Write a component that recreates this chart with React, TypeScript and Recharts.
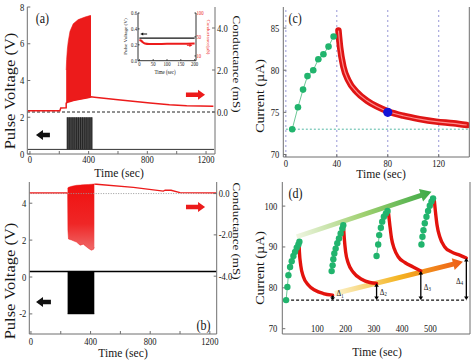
import React from "react";
import { ComposedChart, Line, Area, XAxis, YAxis, ReferenceLine, ReferenceDot } from "recharts";

const SERIF = '"Liberation Serif", "Times New Roman", "DejaVu Serif", serif';
const INK = "#161616";
const FRAME = "#6f6f6f";
const RED = "#ec1b1b";
const GREEN = "#21b46d";
const GREEN_LINE = "#6cc896";

// ---- (a) conductance (mS) and pulse voltage (V) against time (sec)
const aXTicks = [0, 200, 400, 600, 800, 1000, 1200];
const aVoltTicks = [0, 2, 4, 6, 8];
const aCondTicks = [0, 2, 4];
const aBaseT = [-15, 204, 210, 247];
const aBaseG = [0.06, 0.06, 0.19, 0.2];
const aPulseT = [247, 250, 255, 261, 273, 295, 329, 375, 409, 416];
const aPulseLo = [0.42, 0.44, 0.46, 0.48, 0.5, 0.55, 0.6, 0.66, 0.7, 0.72];
const aPulseHi = [2.0, 2.5, 3.0, 3.36, 3.84, 4.2, 4.4, 4.52, 4.59, 4.6];
const aPostT = [416, 440, 600, 818, 950, 1068, 1250];
const aPostG = [0.72, 0.7, 0.58, 0.43, 0.35, 0.3, 0.27];
const aVoltT = [-15, 1255];
const aVoltV = [0.25, 0.25];
const aBlockT = [250, 427];
const aBlockLo = [0.25, 0.25];
const aBlockHi = [2, 2];
const aStripeT = [258, 272, 287, 301, 316, 330, 345, 359, 374, 388, 403, 417];

// ---- inset of (a)
const insXTicks = [0, 50, 100, 150, 200];
const insVoltTicks = [0, 0.2, 0.4, 0.6];
const insCondTicks = [10, 50, 100];
const insVoltT = [0, 200];
const insVoltV = [0.285, 0.285];
const insCondT = [0, 4, 10, 20, 35, 60, 100, 150, 200];
const insCondG = [42, 43, 40, 36, 35, 35, 35.5, 35.5, 36];

// ---- (b)
const bXTicks = [0, 200, 400, 600, 800, 1000, 1200];
const bVoltTicks = [-2, 0, 2, 4];
const bCondTicks = [-4, -2, 0];
const bBaseT = [-10, 246];
const bBaseG = [0.03, 0.03];
const bPulseT = [246, 248, 252, 273, 306, 330, 351, 385, 405, 420, 425];
const bPulseLo = [0.03, -1.77, -2.2, -2.25, -2.35, -2.5, -2.45, -2.65, -2.74, -2.7, -2.6];
const bPulseHi = [0.25, 0.28, 0.3, 0.35, 0.4, 0.41, 0.43, 0.44, 0.45, 0.46, 0.46];
const bPostT = [425, 440, 687, 888, 900, 940, 1000, 1245];
const bPostG = [0.46, 0.45, 0.3, 0.12, 0.16, 0.16, 0.05, 0.03];
const bVoltT = [-10, 1245];
const bVoltV = [0.3, 0.3];
const bBlockT = [246, 425];
const bBlockLo = [-2, -2];
const bBlockHi = [0.3, 0.3];

// ---- (c) current (uA) for one pulse
const cXTicks = [0, 40, 80, 120];
const cITicks = [70, 75, 80, 85];
const cRiseT = [5, 9.5, 13.5, 17, 21.5, 25.5, 29.5, 33.5, 37.5];
const cRiseI = [73.0, 75.6, 77.7, 79.3, 80.0, 81.3, 81.9, 82.8, 84.0];
const cDecayT = [41.3, 42.6, 45.2, 49, 55.7, 63.5, 71.4, 80.5, 92, 105, 118, 131.5, 142];
const cDecayI = [84.7, 82.7, 80.4, 78.8, 77.4, 76.4, 75.7, 75.1, 74.6, 74.2, 73.9, 73.7, 73.5];
const cMarkT = [80];
const cMarkI = [75];
const cBaseI = 73;

// ---- (d) four repeated cycles
const dXTicks = [100, 200, 300, 400, 500];
const dITicks = [70, 80, 90, 100];
const dRiseT = [
  [-10.6, -6, -2.4, 3.5, 9.4, 15.3, 21.2, 27, 33, 36.5],
  [150.6, 154, 156.5, 160, 164.8, 170.6, 176.5, 182.4, 188.3, 191.8],
  [309.5, 315.3, 318.8, 324.7, 329.4, 335.3, 342.4, 348.4],
  [468.3, 471.8, 475.3, 480, 486, 491.7, 497.7, 503.7, 509.3],
];
const dRiseI = [
  [77.0, 80.2, 83.1, 85.1, 86.5, 87.8, 88.8, 89.8, 90.6, 91.3],
  [84.1, 85.5, 87.0, 88.4, 89.6, 90.9, 92.1, 93.3, 94.5, 95.3],
  [87.8, 90.6, 92.9, 94.7, 96.2, 97.4, 98.2, 98.8],
  [90.6, 92.5, 94.1, 95.8, 97.4, 98.8, 100.1, 101.1, 101.9],
];
const dDecayT = [
  [35, 36.5, 41.2, 50.6, 68, 91.8, 121, 154],
  [192, 195.3, 200, 209.5, 227, 256.5, 286, 309.5],
  [350.6, 356.5, 362.4, 371.8, 385.9, 409.5, 438.8, 466],
  [512.9, 517.8, 523.5, 533, 550.7, 574.2, 603.5, 627],
];
const dDecayI = [
  [91.0, 88.8, 85.5, 82.7, 80.7, 79.4, 78.6, 78.2],
  [95.5, 92.1, 88.8, 86.0, 83.8, 82.1, 81.3, 81.1],
  [99.0, 95.3, 92.1, 89.6, 87.6, 86.2, 85.1, 84.1],
  [102.0, 98.6, 95.3, 92.5, 90.0, 88.8, 88.0, 87.3],
];
const dBaseI = 77;
const dDeltaT = [154, 309.5, 466, 627];
const dDeltaTop = [78.2, 81.1, 84.1, 87.3];

const pts = (t: number[], y: number[]) => t.map((x, i) => ({ t: x, y: y[i] }));
const band = (t: number[], lo: number[], hi: number[]) => t.map((x, i) => ({ t: x, r: [lo[i], hi[i]] }));

const frame = { type: "number" as const, stroke: FRAME, allowDataOverflow: true, interval: 0 as const };
const frameInk = { type: "number" as const, stroke: "#333", allowDataOverflow: true, interval: 0 as const };

type TickOpts = { size?: number; fmt?: (v: number) => string; dy?: string | number; fill?: string };
const tickText = (o: TickOpts = {}) => (p: any) => {
  const v = Number(p.payload?.value);
  const s = o.fmt ? o.fmt(v) : String(v);
  if (!s) return <g />;
  return (
    <text
      transform={`translate(${p.x},${p.y}) scale(0.86,1)`}
      textAnchor={p.textAnchor}
      dy={o.dy ?? "0.35em"}
      fontSize={o.size ?? 10}
      fill={o.fill ?? INK}
      style={{ fontFamily: SERIF }}
    >
      {s}
    </text>
  );
};

// axis titles sit at fixed spots of their own chart
const axisTitle = (text: string, x: number, y: number, size: number, angle = 0, fill = INK) => () => (
  <text
    transform={`translate(${x},${y}) rotate(${angle}) scale(${angle ? "1,0.86" : "0.86,1"})`}
    textAnchor="middle"
    dominantBaseline="central"
    fontSize={size}
    fill={fill}
    style={{ fontFamily: SERIF }}
  >
    {text}
  </text>
);

const noteShape = (content: React.ReactNode, size = 14, fill = INK) => (p: any) => (
  <text
    transform={`translate(${p.cx},${p.cy}) scale(0.86,1)`}
    textAnchor="middle"
    dominantBaseline="central"
    fontSize={size}
    fill={fill}
    style={{ fontFamily: SERIF }}
  >
    {content}
  </text>
);

type ArrowStyle = { id: string; stops: string[]; shaft: number; headL: number; headW: number; both?: boolean };
const arrowShape = (s: ArrowStyle) => (p: any) => {
  const { x1, y1, x2, y2 } = p;
  if (![x1, y1, x2, y2].every((v) => Number.isFinite(v))) return <g />;
  const len = Math.hypot(x2 - x1, y2 - y1) || 1;
  const ux = (x2 - x1) / len;
  const uy = (y2 - y1) / len;
  const hl = Math.min(s.headL, len / (s.both ? 2.2 : 1.2));
  const at = (x: number, y: number, along: number, across: number) =>
    `${(x + ux * along - uy * across).toFixed(2)},${(y + uy * along + ux * across).toFixed(2)}`;
  const a = s.shaft / 2;
  const h = s.headW / 2;
  const poly = s.both
    ? [at(x1, y1, 0, 0), at(x1, y1, hl, h), at(x1, y1, hl, a), at(x2, y2, -hl, a), at(x2, y2, -hl, h), at(x2, y2, 0, 0),
       at(x2, y2, -hl, -h), at(x2, y2, -hl, -a), at(x1, y1, hl, -a), at(x1, y1, hl, -h)]
    : [at(x1, y1, 0, a), at(x2, y2, -hl, a), at(x2, y2, -hl, h), at(x2, y2, 0, 0), at(x2, y2, -hl, -h),
       at(x2, y2, -hl, -a), at(x1, y1, 0, -a)];
  const grad = s.stops.length > 1;
  return (
    <g>
      {grad && (
        <defs>
          <linearGradient id={s.id} gradientUnits="userSpaceOnUse" x1={x1} y1={y1} x2={x2} y2={y2}>
            {s.stops.map((c, i) => (
              <stop key={i} offset={i / (s.stops.length - 1)} stopColor={c} />
            ))}
          </linearGradient>
        </defs>
      )}
      <polygon points={poly.join(" ")} fill={grad ? `url(#${s.id})` : s.stops[0]} />
    </g>
  );
};

const redSide = { stops: [RED], shaft: 4.5, headL: 7, headW: 10 };
const blackSide = { stops: ["#111"], shaft: 4.5, headL: 7, headW: 10 };

function PanelA() {
  return (
    <ComposedChart width={245} height={182} margin={{ top: 7, right: 0, bottom: 0, left: 0 }}>
      <XAxis dataKey="t" {...frame} domain={[-18, 1261]} ticks={aXTicks} height={28} tickSize={-3} tickMargin={5}
        tick={tickText({ dy: "0.71em", fmt: (v) => (v % 400 === 0 ? String(v) : "") })}
        label={axisTitle("Time (sec)", 119, 173, 13.5)} />
      <XAxis xAxisId="top" orientation="top" {...frame} domain={[-18, 1261]} height={0} tick={false} tickLine={false} />
      <YAxis yAxisId="v" {...frame} domain={[0, 8]} ticks={aVoltTicks} width={27.3} tickSize={-3} tickMargin={6}
        tick={tickText()} label={axisTitle("Pulse Voltage (V)", 10, 91, 16.5, -90)} />
      <YAxis yAxisId="g" orientation="right" {...frame} domain={[-2, 5]} ticks={aCondTicks} width={30} tickSize={-3}
        tickMargin={5} tick={tickText({ fmt: (v) => v.toFixed(1) })}
        label={axisTitle("Conductance (mS)", 237, 64, 13, 90)} />
      <ReferenceLine yAxisId="g" y={0} stroke="#222" strokeDasharray="3 2" />
      <Area yAxisId="v" data={band(aBlockT, aBlockLo, aBlockHi)} dataKey="r" type="linear" fill="#4e4e4e"
        fillOpacity={1} stroke="none" isAnimationActive={false} />
      {aStripeT.map((t) => (
        <ReferenceLine key={t} yAxisId="v" segment={[{ x: t, y: 0.25 }, { x: t, y: 2 }]} stroke="#161616" strokeWidth={0.8} />
      ))}
      <Line yAxisId="v" data={pts(aVoltT, aVoltV)} dataKey="y" stroke="#333" strokeWidth={1} dot={false}
        activeDot={false} isAnimationActive={false} />
      <Area yAxisId="g" data={band(aPulseT, aPulseLo, aPulseHi)} dataKey="r" type="linear" fill={RED}
        fillOpacity={1} stroke={RED} strokeWidth={0.6} isAnimationActive={false} />
      <Line yAxisId="g" data={pts([...aBaseT, ...aPulseT, ...aPostT], [...aBaseG, ...aPulseLo, ...aPostG])}
        dataKey="y" stroke={RED} strokeWidth={1.5} dot={false} activeDot={false} isAnimationActive={false} />
      <ReferenceLine yAxisId="g" segment={[{ x: 1063, y: 0.82 }, { x: 1193, y: 0.82 }]} ifOverflow="visible"
        shape={arrowShape({ id: "aRed", ...redSide })} />
      <ReferenceLine yAxisId="v" segment={[{ x: 136, y: 1.03 }, { x: 41, y: 1.03 }]} ifOverflow="visible"
        shape={arrowShape({ id: "aBlack", ...blackSide })} />
      <ReferenceDot yAxisId="v" x={85} y={7.4} r={0} ifOverflow="visible" shape={noteShape("(a)")} />
    </ComposedChart>
  );
}

function Inset() {
  return (
    <ComposedChart width={94} height={70} margin={{ top: 5, right: 0, bottom: 0, left: 0 }}>
      <XAxis dataKey="t" {...frameInk} domain={[-5, 205]} ticks={insXTicks} height={17.3} tickSize={-1.5}
        tickMargin={2.5} tick={tickText({ size: 5.5, dy: "0.71em" })}
        label={axisTitle("Time (sec)", 47, 63.5, 5.8)} />
      <XAxis xAxisId="top" orientation="top" {...frameInk} domain={[-5, 205]} height={0} tick={false} tickLine={false} />
      <YAxis yAxisId="v" {...frameInk} domain={[0, 0.6]} ticks={insVoltTicks} width={20} tickSize={-1.5}
        tickMargin={2.5} tick={tickText({ size: 5.5, fmt: (v) => v.toFixed(1) })}
        label={axisTitle("Pulse Voltage (V)", 8, 28.5, 5.2, -90)} />
      <YAxis yAxisId="g" orientation="right" {...frameInk} domain={[0, 100]} ticks={insCondTicks} width={16}
        tickSize={-1.5} tickMargin={2} tick={tickText({ size: 5.5, fill: RED })}
        label={axisTitle("Conductance(\u00b5S)", 90.5, 29, 5, 90, RED)} />
      <Line yAxisId="v" data={pts(insVoltT, insVoltV)} dataKey="y" stroke="#111" strokeWidth={1.3} dot={false}
        activeDot={false} isAnimationActive={false} />
      <Line yAxisId="g" data={pts(insCondT, insCondG)} dataKey="y" type="monotone" stroke={RED} strokeWidth={2}
        dot={false} activeDot={false} isAnimationActive={false} />
      <ReferenceLine yAxisId="v" segment={[{ x: 28, y: 0.336 }, { x: 3, y: 0.336 }]} ifOverflow="visible"
        shape={arrowShape({ id: "iBlack", stops: ["#111"], shaft: 0.9, headL: 3, headW: 3.2 })} />
      <ReferenceLine yAxisId="g" segment={[{ x: 172, y: 32.3 }, { x: 192, y: 32.3 }]} ifOverflow="visible"
        shape={arrowShape({ id: "iRed", stops: [RED], shaft: 0.9, headL: 3, headW: 3.2 })} />
    </ComposedChart>
  );
}

function PanelB() {
  return (
    <ComposedChart width={245} height={183} margin={{ top: 2, right: 0, bottom: 0, left: 0 }}>
      <defs>
        <linearGradient id="bPulseFill" x1="0" y1="0" x2="0" y2="1">
          <stop offset="0" stopColor="#f01010" />
          <stop offset="0.6" stopColor="#ef2626" />
          <stop offset="1" stopColor="#ef6a6a" />
        </linearGradient>
      </defs>
      <XAxis dataKey="t" {...frame} domain={[-11, 1246]} ticks={bXTicks} height={29} tickSize={-3} tickMargin={6.5}
        tick={tickText({ dy: "0.71em", fmt: (v) => (v % 400 === 0 ? String(v) : "") })}
        label={axisTitle("Time (sec)", 123, 173, 13.5)} />
      <XAxis xAxisId="top" orientation="top" {...frame} domain={[-11, 1246]} height={0} tick={false} tickLine={false} />
      <YAxis yAxisId="v" {...frame} domain={[-3.09, 5.15]} ticks={bVoltTicks} width={29.3} tickSize={-3}
        tickMargin={6} tick={tickText()} label={axisTitle("Pulse Voltage (V)", 10, 101, 16.5, -90)} />
      <YAxis yAxisId="g" orientation="right" {...frame} domain={[-6.8, 0.56]} ticks={bCondTicks} width={28.3}
        tickSize={-3} tickMargin={5} tick={tickText({ fmt: (v) => v.toFixed(1) })}
        label={axisTitle("Conductance (mS)", 237, 51, 13, 90)} />
      <ReferenceLine yAxisId="g" y={0} stroke="#9a9a9a" strokeDasharray="1 1.5" />
      <Area yAxisId="v" data={band(bBlockT, bBlockLo, bBlockHi)} dataKey="r" type="linear" fill="#000"
        fillOpacity={1} stroke="#000" strokeWidth={0.6} isAnimationActive={false} />
      <Line yAxisId="v" data={pts(bVoltT, bVoltV)} dataKey="y" stroke="#000" strokeWidth={1.6} dot={false}
        activeDot={false} isAnimationActive={false} />
      <Area yAxisId="g" data={band(bPulseT, bPulseLo, bPulseHi)} dataKey="r" type="linear" fill="url(#bPulseFill)"
        fillOpacity={1} stroke={RED} strokeWidth={0.5} isAnimationActive={false} />
      <Line yAxisId="g" data={pts(bBaseT, bBaseG)} dataKey="y" stroke={RED} strokeWidth={1.3} dot={false}
        activeDot={false} isAnimationActive={false} />
      <Line yAxisId="g" data={pts(bPostT, bPostG)} dataKey="y" stroke={RED} strokeWidth={1.3} dot={false}
        activeDot={false} isAnimationActive={false} />
      <ReferenceLine yAxisId="g" segment={[{ x: 1040, y: -0.65 }, { x: 1168, y: -0.65 }]} ifOverflow="visible"
        shape={arrowShape({ id: "bRed", ...redSide })} />
      <ReferenceLine yAxisId="v" segment={[{ x: 134, y: -1.36 }, { x: 34, y: -1.36 }]} ifOverflow="visible"
        shape={arrowShape({ id: "bBlack", ...blackSide })} />
      <ReferenceDot yAxisId="v" x={1158} y={-2.6} r={0} ifOverflow="visible" shape={noteShape("(b)")} />
    </ComposedChart>
  );
}

function PanelC() {
  return (
    <ComposedChart width={229} height={183} margin={{ top: 7, right: 0, bottom: 0, left: 0 }}>
      <XAxis dataKey="t" {...frame} domain={[-2, 144]} ticks={cXTicks} height={26} tickSize={-3} tickMargin={5.5}
        tick={tickText({ dy: "0.71em" })} label={axisTitle("Time (sec)", 136, 173.5, 13.5)} />
      <XAxis xAxisId="top" orientation="top" {...frame} domain={[-2, 144]} height={0} tick={false} tickLine={false} />
      <YAxis yAxisId="i" {...frame} domain={[69.7, 87.5]} ticks={cITicks} width={38.3} tickSize={-3} tickMargin={7}
        tick={tickText()} label={axisTitle("Current (\u00b5A)", 15, 96, 14, -90)} />
      <YAxis yAxisId="edge" orientation="right" {...frame} domain={[69.7, 87.5]} width={4.7} tick={false}
        tickLine={false} />
      {cXTicks.map((x) => (
        <ReferenceLine key={x} yAxisId="i" x={x} stroke="#9898d6" strokeDasharray="2 3" />
      ))}
      <ReferenceLine yAxisId="i" segment={[{ x: 0, y: cBaseI }, { x: 144, y: cBaseI }]} stroke="#55b8a6"
        strokeDasharray="2 2" />
      <Line yAxisId="i" data={pts(cRiseT, cRiseI)} dataKey="y" stroke={GREEN_LINE} strokeWidth={1}
        dot={{ r: 3.3, fill: GREEN, stroke: "none" }} activeDot={false} isAnimationActive={false} />
      <Line yAxisId="i" data={pts(cDecayT, cDecayI)} dataKey="y" type="monotone" stroke="#df1515" strokeWidth={6.5}
        strokeLinecap="round" dot={false} activeDot={false} isAnimationActive={false} />
      <Line yAxisId="i" data={pts(cDecayT, cDecayI)} dataKey="y" type="monotone" stroke="#ff8d8d" strokeWidth={1.2}
        dot={false} activeDot={false} isAnimationActive={false} />
      <Line yAxisId="i" data={pts(cMarkT, cMarkI)} dataKey="y" stroke="none"
        dot={{ r: 4.6, fill: "#1414d6", stroke: "none" }} activeDot={false} isAnimationActive={false} />
      <ReferenceDot yAxisId="i" x={7.3} y={86.15} r={0} ifOverflow="visible" shape={noteShape("(c)")} />
    </ComposedChart>
  );
}

function PanelD() {
  const deltas = ["1", "2", "3", "4"];
  const deltaNoteT = [180, 333, 489, 603];
  const deltaNoteI = [78.6, 78.9, 80.2, 81.6];
  return (
    <ComposedChart width={229} height={183} margin={{ top: 2, right: 0, bottom: 0, left: 0 }}>
      <XAxis dataKey="t" {...frame} domain={[-24, 640]} ticks={dXTicks} height={29} tickSize={0} tickMargin={0}
        tickLine={false} tick={tickText({ dy: -2 })} label={axisTitle("Time (sec)", 132, 172, 13.5)} />
      <XAxis xAxisId="top" orientation="top" {...frame} domain={[-24, 640]} height={0} tick={false} tickLine={false} />
      <YAxis yAxisId="i" {...frame} domain={[68.7, 105.9]} ticks={dITicks} width={37.3} tickSize={-3} tickMargin={8}
        tick={tickText()} label={axisTitle("Current (\u00b5A)", 15, 88, 14, -90)} />
      <YAxis yAxisId="edge" orientation="right" {...frame} domain={[68.7, 105.9]} width={4} tick={false}
        tickLine={false} />
      <ReferenceLine yAxisId="i" segment={[{ x: -10.6, y: dBaseI }, { x: 627, y: dBaseI }]} stroke="#111"
        strokeWidth={1.2} strokeDasharray="3 2" />
      <ReferenceLine yAxisId="i" segment={[{ x: 27, y: 92.5 }, { x: 503.7, y: 103.5 }]} ifOverflow="visible"
        shape={arrowShape({ id: "dGreen", stops: ["#eef5e0", "#9fd070", "#3da946"], shaft: 5, headL: 11, headW: 13 })} />
      <ReferenceLine yAxisId="i" segment={[{ x: 162, y: 78.6 }, { x: 615, y: 86.4 }]} ifOverflow="visible"
        shape={arrowShape({ id: "dOrange", stops: ["#fbf3cc", "#f4b422", "#ee5b16"], shaft: 5, headL: 10, headW: 12 })} />
      {dRiseT.map((t, k) => (
        <Line key={`r${k}`} yAxisId="i" data={pts(t, dRiseI[k])} dataKey="y" stroke={GREEN_LINE} strokeWidth={1}
          dot={{ r: 3.2, fill: GREEN, stroke: "none" }} activeDot={false} isAnimationActive={false} />
      ))}
      {dDecayT.map((t, k) => (
        <Line key={`d${k}`} yAxisId="i" data={pts(t, dDecayI[k])} dataKey="y" type="monotone" stroke="#e3130d"
          strokeWidth={3.4} strokeLinecap="round" dot={false} activeDot={false} isAnimationActive={false} />
      ))}
      {dDeltaT.map((t, k) => (
        <ReferenceLine key={`a${k}`} yAxisId="i" segment={[{ x: t, y: dBaseI }, { x: t, y: dDeltaTop[k] }]}
          ifOverflow="visible"
          shape={arrowShape({ id: `dDelta${k}`, stops: ["#000"], shaft: 1.3, headL: 3.5, headW: 4.6, both: true })} />
      ))}
      {deltas.map((s, k) => (
        <ReferenceDot key={`n${k}`} yAxisId="i" x={deltaNoteT[k]} y={deltaNoteI[k]} r={0} ifOverflow="visible"
          shape={noteShape(
            <>
              {"\u0394"}
              <tspan fontSize={5.5} dy={2}>{s}</tspan>
            </>,
            8.5,
          )} />
      ))}
      <ReferenceDot yAxisId="i" x={23} y={103.2} r={0} ifOverflow="visible" shape={noteShape("(d)")} />
    </ComposedChart>
  );
}

export default function App() {
  return (
    <div style={{ position: "absolute", left: 0, top: 0, width: 474, height: 363, background: "#fff", overflow: "hidden" }}>
      <div style={{ position: "absolute", left: 0, top: 180 }}>
        <PanelB />
      </div>
      <div style={{ position: "absolute", left: 245, top: 180 }}>
        <PanelD />
      </div>
      <div style={{ position: "absolute", left: 0, top: 0 }}>
        <PanelA />
      </div>
      <div style={{ position: "absolute", left: 118, top: 8 }}>
        <Inset />
      </div>
      <div style={{ position: "absolute", left: 245, top: 0 }}>
        <PanelC />
      </div>
    </div>
  );
}
